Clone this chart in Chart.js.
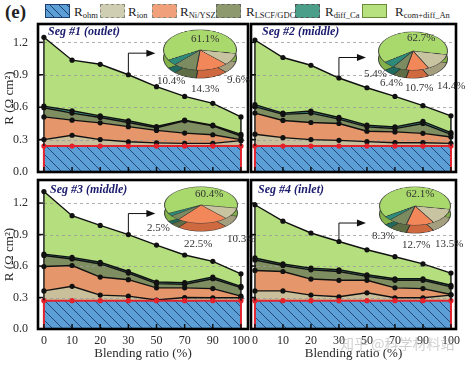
<!DOCTYPE html>
<html><head><meta charset="utf-8">
<script src="https://cdn.jsdelivr.net/npm/chart.js@4/dist/chart.umd.min.js"></script>
<style>
body{margin:0;width:474px;height:368px;background:#fff;position:relative;overflow:hidden;font-family:"Liberation Serif",serif;}
canvas{position:absolute;}
.t{position:absolute;white-space:nowrap;line-height:1;color:#222;}
.pl{position:absolute;white-space:nowrap;line-height:1;font-size:11px;color:#333;}
.seg{position:absolute;white-space:nowrap;line-height:1;font-size:12px;font-weight:bold;font-style:italic;color:#1c1c6e;}
.box{position:absolute;top:4px;width:25px;height:14px;box-sizing:border-box;}
.lg{position:absolute;top:4px;font-size:13px;white-space:nowrap;color:#222;}
.lg sub{font-size:8.5px;vertical-align:-2px;}
</style></head><body>
<div class="t" style="left:5px;top:2px;font-size:19px;font-weight:bold;">(e)</div>
<div class="box" style="left:45px;border:1px solid #1f3f6e;background:repeating-linear-gradient(45deg,#5b9fd6 0 5px,#1f3f6e 5px 6px);"></div>
<div class="lg" style="left:74px;">R<sub>ohm</sub></div>
<div class="box" style="left:100px;border:1px dashed #8a8a7a;background:#cfcdb2;"></div>
<div class="lg" style="left:128px;">R<sub>ion</sub></div>
<div class="box" style="left:152px;border:1px dashed #8a8a7a;background:#f0a07a;"></div>
<div class="lg" style="left:180px;">R<sub>Ni/YSZ</sub></div>
<div class="box" style="left:216px;border:1px dashed #666;background:#8e9a6e;"></div>
<div class="lg" style="left:246px;">R<sub>LSCF/GDC</sub></div>
<div class="box" style="left:295px;border:1px dashed #555;background:#4a9e8a;"></div>
<div class="lg" style="left:325px;">R<sub>diff_Ca</sub></div>
<div class="box" style="left:362px;border:1px solid #6a8a3a;background:#b7e07f;"></div>
<div class="lg" style="left:395px;">R<sub>com+diff_An</sub></div>

<canvas id="c1" width="252" height="176" style="left:0;top:0"></canvas>
<canvas id="c2" width="230" height="176" style="left:244px;top:0"></canvas>
<canvas id="c3" width="252" height="192" style="left:0;top:176px"></canvas>
<canvas id="c4" width="230" height="192" style="left:244px;top:176px"></canvas>

<div class="seg" style="left:48px;top:25px;">Seg #1 (outlet)</div>
<div class="seg" style="left:262px;top:25px;">Seg #2 (middle)</div>
<div class="seg" style="left:50px;top:183px;">Seg #3 (middle)</div>
<div class="seg" style="left:258px;top:183px;">Seg #4 (inlet)</div>

<div id="pies"></div>
<div class="t" style="left:340px;top:336px;font-size:14px;color:rgba(150,150,150,0.45);font-family:'Noto Sans CJK SC';">知乎 @科学材料站</div>

<script>
// ---------- data ----------
const blendingRatio = ['0','10','20','30','50','70','90','100'];
const yTickValues = [0, 0.3, 0.6, 0.9, 1.2];

// cumulative (stacked) tops of each resistance layer
const seg1Ohm    = [0.24,0.24,0.24,0.24,0.24,0.24,0.24,0.24];
const seg1Ion    = [0.30,0.34,0.30,0.28,0.27,0.265,0.265,0.29];
const seg1Ni     = [0.51,0.48,0.455,0.42,0.385,0.36,0.345,0.30];
const seg1Lscf   = [0.595,0.545,0.505,0.458,0.41,0.474,0.427,0.333];
const seg1DiffCa = [0.61,0.567,0.52,0.474,0.421,0.48,0.433,0.349];
const seg1Total  = [1.247,1.035,0.997,0.90,0.79,0.70,0.636,0.51];

const seg2Ohm    = [0.24,0.24,0.24,0.24,0.24,0.24,0.24,0.24];
const seg2Ion    = [0.35,0.318,0.30,0.293,0.281,0.271,0.271,0.265];
const seg2Ni     = [0.545,0.477,0.458,0.449,0.377,0.371,0.358,0.324];
const seg2Lscf   = [0.605,0.533,0.545,0.489,0.418,0.402,0.449,0.349];
const seg2DiffCa = [0.623,0.545,0.564,0.505,0.433,0.418,0.468,0.365];
const seg2Total  = [1.222,1.06,0.988,0.87,0.78,0.70,0.614,0.52];

const seg3Ohm    = [0.27,0.27,0.27,0.27,0.27,0.27,0.27,0.27];
const seg3Ion    = [0.363,0.407,0.323,0.313,0.276,0.30,0.298,0.298];
const seg3Ni     = [0.595,0.605,0.495,0.47,0.392,0.392,0.385,0.313];
const seg3Lscf   = [0.70,0.667,0.62,0.533,0.432,0.426,0.479,0.395];
const seg3DiffCa = [0.714,0.683,0.636,0.548,0.448,0.442,0.495,0.407];
const seg3Total  = [1.31,1.08,0.987,0.90,0.80,0.705,0.645,0.526];

const seg4Ohm    = [0.27,0.27,0.27,0.27,0.27,0.27,0.27,0.27];
const seg4Ion    = [0.363,0.363,0.323,0.307,0.345,0.298,0.298,0.323];
const seg4Ni     = [0.558,0.548,0.476,0.464,0.464,0.392,0.385,0.329];
const seg4Lscf   = [0.658,0.605,0.564,0.548,0.501,0.464,0.464,0.401];
const seg4DiffCa = [0.677,0.62,0.58,0.564,0.517,0.479,0.479,0.417];
const seg4Total  = [1.184,1.028,0.915,0.834,0.755,0.689,0.62,0.533];

// pie shares (%): com+diff_An, ion, Ni/YSZ, LSCF/GDC, diff_Ca
const pieNames = ['R_com+diff_An','R_ion','R_Ni/YSZ','R_LSCF/GDC','R_diff_Ca'];
const seg1Pie = [61.1, 9.6, 14.3, 10.4, 4.6];
const seg2Pie = [62.7, 14.4, 10.7, 6.4, 5.4];
const seg3Pie = [60.4, 10.3, 22.5, 4.3, 2.5];
const seg4Pie = [62.1, 13.5, 12.7, 8.3, 3.4];

// ---------- styles ----------
const FONT = 'Liberation Serif';
const COL = {ion:'#c9bf9a', ni:'#e5966a', lscf:'#7f8e60', diff:'#3f9a86', com:'#b5de7e', red:'#e3222b', blue:'#5b9fd6', hatch:'#1f3f6e'};
const pieTop  = ['#a9d86c','#c8c3a0','#f2875a','#7d8b60','#2e8b7a'];
const pieSide = ['#84b24a','#a39f7f','#cf6a40','#5f6d45','#216b5e'];

function hatchPattern(){
  const n=10, c=document.createElement('canvas'); c.width=n; c.height=n;
  const g=c.getContext('2d'); g.fillStyle=COL.blue; g.fillRect(0,0,n,n);
  g.strokeStyle=COL.hatch; g.lineWidth=0.9; g.beginPath();
  g.moveTo(0,0); g.lineTo(n,n); g.moveTo(-2,n-2); g.lineTo(2,n+2); g.moveTo(n-2,-2); g.lineTo(n+2,2); g.stroke();
  return g.createPattern(c,'repeat');
}
const HATCH = hatchPattern();

function panel(id, d, o){
  const cv=document.getElementById(id);
  const mk = a => a.map((v,i)=>({x:i,y:v}));
  const bl = {borderColor:'#111', borderWidth:1.4, pointRadius:2.6, pointBackgroundColor:'#111', pointBorderWidth:0, tension:0};
  const deco = {
    id:'deco',
    beforeDatasetsDraw(chart){
      const {ctx, chartArea:{left,right}, scales:{y}} = chart;
      ctx.save(); ctx.strokeStyle='#9c9c9c'; ctx.lineWidth=0.8; ctx.setLineDash([3,3]);
      yTickValues.slice(1).forEach(v=>{const py=Math.round(y.getPixelForValue(v))+0.5; ctx.beginPath(); ctx.moveTo(left,py); ctx.lineTo(right,py); ctx.stroke();});
      ctx.restore();
    },
    afterDatasetsDraw(chart){
      const {ctx, chartArea:{left,right,top,bottom}, scales:{x,y}} = chart;
      ctx.save();
      const xs=[x.getPixelForValue(0), x.getPixelForValue(7)];
      const idx=[0,7];
      ctx.strokeStyle='#111'; ctx.lineWidth=1.4;
      xs.forEach((px,k)=>{ctx.beginPath(); ctx.moveTo(px,y.getPixelForValue(d.total[idx[k]])); ctx.lineTo(px,y.getPixelForValue(d.ohm[idx[k]])); ctx.stroke();});
      ctx.strokeStyle=COL.red; ctx.lineWidth=2;
      xs.forEach((px,k)=>{ctx.beginPath(); ctx.moveTo(px,y.getPixelForValue(d.ohm[idx[k]])); ctx.lineTo(px,bottom); ctx.stroke();});
      // arrow toward the pie
      const ax=x.getPixelForValue(3), ay=y.getPixelForValue(d.total[3]), at=y.getPixelForValue(o.arrowTop);
      ctx.strokeStyle='#111'; ctx.lineWidth=1;
      ctx.beginPath(); ctx.moveTo(ax,ay); ctx.lineTo(ax,at); ctx.lineTo(ax+19,at); ctx.stroke();
      ctx.fillStyle='#111'; ctx.beginPath(); ctx.moveTo(ax+27,at); ctx.lineTo(ax+18,at-3.5); ctx.lineTo(ax+18,at+3.5); ctx.closePath(); ctx.fill();
      // inward ticks
      ctx.lineWidth=1.5;
      blendingRatio.forEach((_,i)=>{const px=x.getPixelForValue(i); ctx.beginPath(); ctx.moveTo(px,bottom); ctx.lineTo(px,bottom-5); ctx.stroke();});
      yTickValues.forEach(v=>{const py=y.getPixelForValue(v); ctx.beginPath(); ctx.moveTo(left,py); ctx.lineTo(left+5,py); ctx.stroke();});
      // frame
      ctx.strokeStyle='#000'; ctx.lineWidth=2.6;
      ctx.strokeRect(left,top,right-left,bottom-top);
      // axis tick labels and titles (positions from the chart's scales)
      ctx.fillStyle='#2a2a2a';
      if(o.showY){
        ctx.font='12px "'+FONT+'"'; ctx.textAlign='right'; ctx.textBaseline='middle';
        yTickValues.forEach(v=>ctx.fillText(v.toFixed(1), left-10, y.getPixelForValue(v)));
        ctx.save(); ctx.translate(10,(top+bottom)/2); ctx.rotate(-Math.PI/2);
        ctx.font='13px "'+FONT+'"'; ctx.textAlign='center'; ctx.fillText('R (Ω cm²)',0,0); ctx.restore();
      }
      if(o.showX){
        ctx.font='12px "'+FONT+'"'; ctx.textAlign='center'; ctx.textBaseline='middle';
        blendingRatio.forEach((lab,i)=>ctx.fillText(lab, x.getPixelForValue(i), bottom+12));
        ctx.font='13px "'+FONT+'"';
        ctx.fillText('Blending ratio (%)', (left+right)/2, bottom+24.5);
      }
      ctx.restore();
    }
  };
  const A=o.area;
  return new Chart(cv, {
    type:'line',
    data:{datasets:[
      {label:'R_ohm', data:mk(d.ohm), fill:'origin', backgroundColor:HATCH, borderColor:COL.red, borderWidth:2, pointRadius:2.6, pointBackgroundColor:COL.red, pointBorderWidth:0, tension:0},
      {label:'R_ion', data:mk(d.ion), fill:'-1', backgroundColor:COL.ion, ...bl},
      {label:'R_Ni/YSZ', data:mk(d.ni), fill:'-1', backgroundColor:COL.ni, ...bl},
      {label:'R_LSCF/GDC', data:mk(d.lscf), fill:'-1', backgroundColor:COL.lscf, ...bl},
      {label:'R_diff_Ca', data:mk(d.diff), fill:'-1', backgroundColor:COL.diff, ...bl},
      {label:'R_com+diff_An', data:mk(d.total), fill:'-1', backgroundColor:COL.com, ...bl}
    ]},
    options:{
      responsive:false, animation:false, devicePixelRatio:1,
      layout:{padding:{left:A.left, top:A.top, right:cv.width-A.right, bottom:cv.height-A.bottom}},
      plugins:{legend:{display:false}, tooltip:{enabled:false}, filler:{drawTime:'beforeDatasetsDraw', propagate:false}},
      scales:{
        x:{type:'linear', display:false, min:o.xmin, max:o.xmax},
        y:{type:'linear', display:false, min:0, max:o.ymax}
      }
    },
    plugins:[deco]
  });
}

const L = {xmin:-0.21, xmax:7.25, showY:true};
const R = {xmin:-0.14, xmax:7.18, showY:false};
panel('c1',{ohm:seg1Ohm,ion:seg1Ion,ni:seg1Ni,lscf:seg1Lscf,diff:seg1DiffCa,total:seg1Total},{...L, area:{left:38,right:248,top:24,bottom:172}, ymax:1.37, showX:false, arrowTop:1.10});
panel('c2',{ohm:seg2Ohm,ion:seg2Ion,ni:seg2Ni,lscf:seg2Lscf,diff:seg2DiffCa,total:seg2Total},{...R, area:{left:7,right:212,top:24,bottom:172}, ymax:1.37, showX:false, arrowTop:1.06});
panel('c3',{ohm:seg3Ohm,ion:seg3Ion,ni:seg3Ni,lscf:seg3Lscf,diff:seg3DiffCa,total:seg3Total},{...L, area:{left:38,right:248,top:3,bottom:153}, ymax:1.42, showX:true, arrowTop:1.10});
panel('c4',{ohm:seg4Ohm,ion:seg4Ion,ni:seg4Ni,lscf:seg4Lscf,diff:seg4DiffCa,total:seg4Total},{...R, area:{left:7,right:212,top:3,bottom:153}, ymax:1.42, showX:true, arrowTop:1.01});

// ---------- pseudo-3D pies ----------
function pie(vals, cx, cy, a, b, th, labels){
  const host=document.getElementById('pies');
  const rot = 100 - vals[0]*3.6;
  [[pieSide, th, '#2a2a2a'], [pieTop, 0, '#333']].forEach(([cols, dy, bc])=>{
    const c=document.createElement('canvas');
    c.width=2*a; c.height=2*a;
    c.style.left=(cx-a)+'px'; c.style.top=(cy-a+dy)+'px';
    c.style.transform='scaleY('+(b/a)+')';
    host.appendChild(c);
    new Chart(c,{type:'pie',
      data:{labels:pieNames, datasets:[{data:vals, backgroundColor:cols, borderColor:bc, borderWidth:0.9}]},
      options:{responsive:false, animation:false, devicePixelRatio:1, rotation:rot, layout:{padding:1},
        plugins:{legend:{display:false}, tooltip:{enabled:false}}}});
  });
  labels.forEach(([txt,x,y])=>{
    const e=document.createElement('div'); e.className='pl'; e.textContent=txt;
    e.style.left=x+'px'; e.style.top=y+'px'; host.appendChild(e);
  });
}
pie(seg1Pie, 200, 50, 38, 21, 8, [['61.1%',191,33],['10.4%',157,75],['14.3%',191,83],['9.6%',227,74]]);
pie(seg2Pie, 413, 51, 36, 20, 8, [['62.7%',407,32],['5.4%',364,68],['6.4%',380,77],['10.7%',405,82],['14.4%',437,80]]);
pie(seg3Pie, 201, 205, 38, 19, 8, [['60.4%',195,188],['2.5%',147,222],['22.5%',184,238],['10.3%',227,233]]);
pie(seg4Pie, 415, 206, 37, 20, 8, [['62.1%',406,188],['8.3%',372,230],['12.7%',402,239],['13.5%',435,238]]);
</script>
</body></html>
